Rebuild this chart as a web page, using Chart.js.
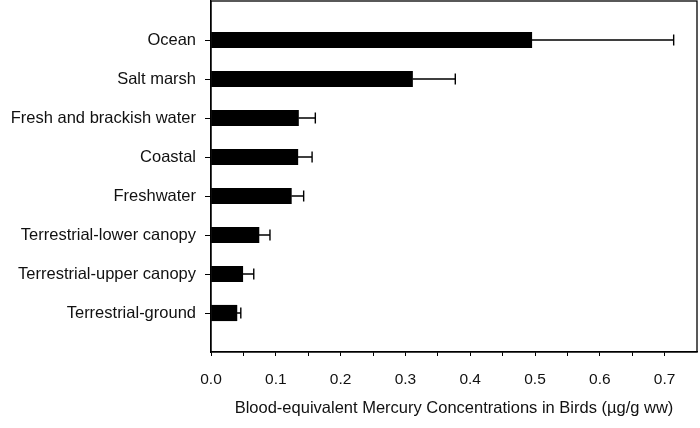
<!DOCTYPE html>
<html>
<head>
<meta charset="utf-8">
<script src="https://cdn.jsdelivr.net/npm/chart.js@4.4.1/dist/chart.umd.min.js"></script>
<style>
  html, body { margin: 0; padding: 0; background: #fff; }
  #wrap { width: 700px; height: 428px; }
</style>
</head>
<body>
<div id="wrap"><canvas id="graficoMercurio"></canvas></div>
<script>
// habitats, de cima para baixo
const categorias = ["Ocean", "Salt marsh", "Fresh and brackish water", "Coastal", "Freshwater",
    "Terrestrial-lower canopy", "Terrestrial-upper canopy", "Terrestrial-ground"];
const medias = [0.495, 0.311, 0.135, 0.134, 0.124, 0.074, 0.049, 0.040];
const erros = [0.219, 0.066, 0.026, 0.022, 0.019, 0.017, 0.017, 0.006];
const ticksX = [0.0, 0.1, 0.2, 0.3, 0.4, 0.5, 0.6, 0.7];

const fonte = "'Liberation Sans', Arial, sans-serif";

// slots vazios nas pontas para dar o espaçamento do original
const labels = ["", ...categorias, ""];
const valores = [null, ...medias, null];
const errosTab = [null, ...erros, null];

const errorBars = {
    id: "errorBars",
    afterDatasetsDraw(chart) {
        const ctx = chart.ctx;
        const x = chart.scales.x, y = chart.scales.y;
        ctx.save();
        ctx.strokeStyle = "#000";
        ctx.lineWidth = 1.4;
        valores.forEach((v, i) => {
            if (v === null) return;
            const py = y.getPixelForValue(i);
            const x0 = x.getPixelForValue(v);
            const x1 = x.getPixelForValue(v + errosTab[i]);
            ctx.beginPath();
            ctx.moveTo(x0, py);
            ctx.lineTo(x1, py);
            ctx.moveTo(x1, py - 5.5);
            ctx.lineTo(x1, py + 5.5);
            ctx.stroke();
        });
        // caixa completa em volta da área
        const a = chart.chartArea;
        ctx.lineWidth = 1.3;
        ctx.strokeRect(a.left, a.top, a.right - a.left, a.bottom - a.top);
        ctx.restore();
    }
};

const ctx = document.getElementById("graficoMercurio").getContext("2d");
new Chart(ctx, {
    type: "bar",
    data: {
        labels: labels,
        datasets: [{
            data: valores,
            backgroundColor: "#000",
            borderWidth: 0,
            barThickness: 15.5
        }]
    },
    options: {
        indexAxis: "y",
        responsive: true,
        maintainAspectRatio: false,
        animation: false,
        layout: { padding: { top: 1, right: 3, bottom: 0, left: 0 } },
        plugins: {
            legend: { display: false },
            tooltip: { enabled: false }
        },
        scales: {
            x: {
                type: "linear",
                min: 0,
                max: 0.75,
                afterBuildTicks: axis => {
                    const t = [];
                    ticksX.forEach(v => {
                        t.push({ value: v });
                        if (v < 0.7) t.push({ value: v + 0.05 });
                    });
                    axis.ticks = t;
                },
                afterFit: axis => {
                    axis.height = 76;
                    axis.paddingLeft = 0;
                    axis.paddingRight = 0;
                },
                grid: {
                    drawOnChartArea: false,
                    drawTicks: true,
                    tickLength: 4,
                    tickColor: "#000"
                },
                border: { display: true, color: "#000", width: 1.3 },
                ticks: {
                    color: "#111",
                    padding: 14,
                    maxRotation: 0,
                    autoSkip: false,
                    font: { family: fonte, size: 15.5 },
                    callback: value => {
                        const r = Math.round(value * 100);
                        return r % 10 === 0 ? (r / 100).toFixed(1) : "";
                    }
                },
                title: {
                    display: true,
                    text: "Blood-equivalent Mercury Concentrations in Birds (µg/g ww)",
                    color: "#111",
                    font: { family: fonte, size: 16.5 },
                    padding: { top: 4, bottom: 10 }
                }
            },
            y: {
                type: "category",
                offset: false,
                afterFit: axis => {
                    axis.width = 211;
                    axis.paddingTop = 0;
                    axis.paddingBottom = 0;
                },
                grid: {
                    offset: false,
                    drawOnChartArea: false,
                    drawTicks: true,
                    tickLength: 6,
                    tickColor: c => (labels[c.index] ? "#000" : "rgba(0,0,0,0)")
                },
                border: { display: true, color: "#000", width: 1.3 },
                ticks: {
                    color: "#111",
                    padding: 9,
                    autoSkip: false,
                    font: { family: fonte, size: 16.5 }
                }
            }
        }
    },
    plugins: [errorBars]
});
</script>
</body>
</html>
